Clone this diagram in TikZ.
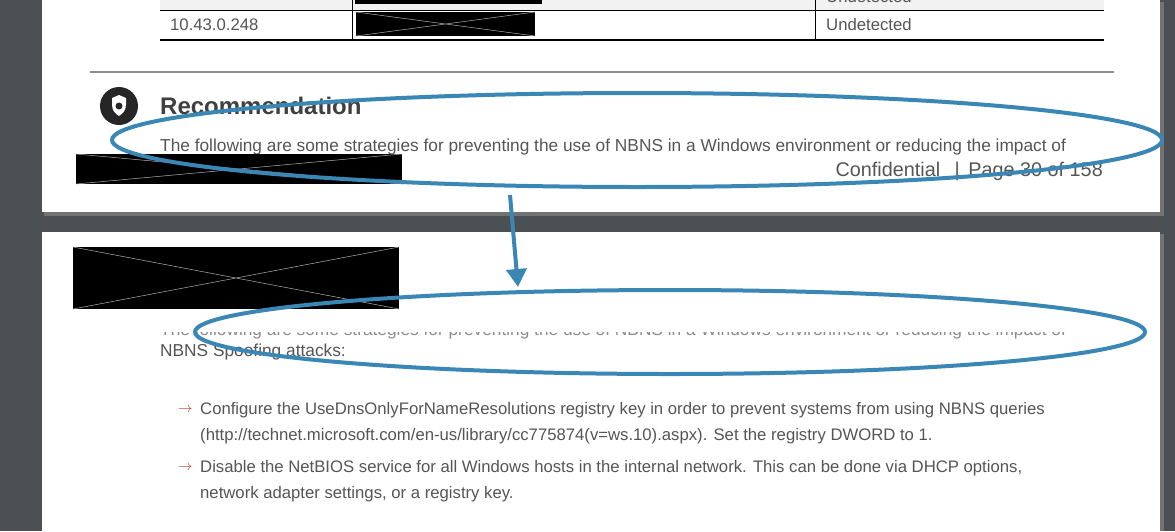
\documentclass[tikz,border=0pt]{standalone}
\usepackage{fontspec}
\setmainfont{Liberation Sans}
\usetikzlibrary{arrows.meta}
\definecolor{bgdark}{HTML}{4B5055}
\definecolor{txt}{HTML}{555555}
\definecolor{mark}{HTML}{3A87B5}
\definecolor{redarrow}{HTML}{C0392B}
\tikzset{
  redact/.style={fill=black,draw=none},
  xline/.style={draw=white!70!black,line width=0.5pt},
  body/.style={anchor=west,inner sep=0pt,text=txt,font=\fontsize{16.7}{18}\selectfont},
  bodybig/.style={anchor=west,inner sep=0pt,text=txt,font=\fontsize{17.3}{19}\selectfont},
  markup/.style={draw=mark,line width=4pt},
  bul/.style={anchor=west,inner sep=0pt,text=redarrow,font=\fontsize{15}{16}\selectfont\bfseries},
}
\begin{document}
\begin{tikzpicture}[x=1pt,y=-1pt]
\useasboundingbox (0,0) rectangle (1175,531);
\fill[bgdark] (0,0) rectangle (1175,531);
% pages
\fill[black!55] (44,2) rectangle (1164,216);
\fill[white] (42,0) rectangle (1160,212);
\fill[black!55] (44,234) rectangle (1164,531);
\fill[white] (42,232) rectangle (1160,531);
\begin{scope}
\clip (42,0) rectangle (1160,212);
% table
\fill[black!5] (160,0) rectangle (1104,10);
\draw[black,line width=1pt] (160,10) -- (1104,10);
\draw[black,line width=1.2pt] (160,40) -- (1104,40);
\draw[black,line width=0.8pt] (352,0) -- (352,40) (815,0) -- (815,40);
\fill[redact] (355,-2) rectangle (542,4);
\fill[redact] (356,12) rectangle (535,36);
\draw[xline] (356,12) -- (535,36) (356,36) -- (535,12);
\node[body] (ip) at (170,25) {10.43.0.248};
\node[body] (und) at (826,25) {Undetected};
\node[body] (undtop) at (826,-3) {Undetected};
% rule
\draw[black!45,line width=1.5pt] (90,72) -- (1114,72);
% icon
\fill[black!85] (119,106) circle (19);
\fill[white] (112,98) -- (119,95) -- (126,98) -- (126,105) .. controls (126,111) and (122,114) .. (119,116) .. controls (116,114) and (112,111) .. (112,105) -- cycle;
\fill[black!85] (119,106) circle (3.5);
\node[anchor=west,inner sep=0pt,text=black!75,font=\fontsize{24}{26}\selectfont\bfseries] (rec) at (160,106) {Recommendation};
\node[bodybig] (p1) at (160,147) {The following are some strategies for preventing the use of NBNS in a Windows environment or reducing the impact of};
\fill[white] (42,155) rectangle (1160,212);
\fill[redact] (76,154) rectangle (402,184);
\draw[xline] (76,154) -- (402,184) (76,184) -- (402,154);
\node[anchor=east,inner sep=0pt,text=txt,font=\fontsize{19.8}{21}\selectfont] (conf) at (1103,171) {Confidential \ \,|\,\ Page 30 of 158};
\end{scope}
% page 2
\begin{scope}
\clip (42,232) rectangle (1160,531);
\fill[redact] (73,247) rectangle (399,309);
\draw[xline] (73,247) -- (399,309) (73,309) -- (399,247);
\begin{scope}
\clip (42,332) rectangle (1160,345);
\node[bodybig,text=black!45] (p2a) at (160,331) {The following are some strategies for preventing the use of NBNS in a Windows environment or reducing the impact of};
\end{scope}
\node[bodybig] (p2b) at (160,352) {NBNS Spoofing attacks:};
\node[bul] (b1) at (178,410) {$\rightarrow$};
\node[body] (l1) at (200,410) {Configure the UseDnsOnlyForNameResolutions registry key in order to prevent systems from using NBNS queries};
\node[body] (l2) at (200,436) {(http://technet.microsoft.com/en-us/library/cc775874(v=ws.10).aspx). Set the registry DWORD to 1.};
\node[bul] (b2) at (178,468) {$\rightarrow$};
\node[body] (l3) at (200,468) {Disable the NetBIOS service for all Windows hosts in the internal network. This can be done via DHCP options,};
\node[body] (l4) at (200,494) {network adapter settings, or a registry key.};
\end{scope}
% annotations
\draw[markup] (637,140) ellipse [x radius=525, y radius=47];
\draw[markup] (670,332) ellipse [x radius=475, y radius=42];
\coordinate (as) at (510,195);
\coordinate (ae) at (518,287);
\draw[markup,-{Triangle[length=18pt,width=20pt]}] (as) -- (ae);
\end{tikzpicture}
\end{document}
